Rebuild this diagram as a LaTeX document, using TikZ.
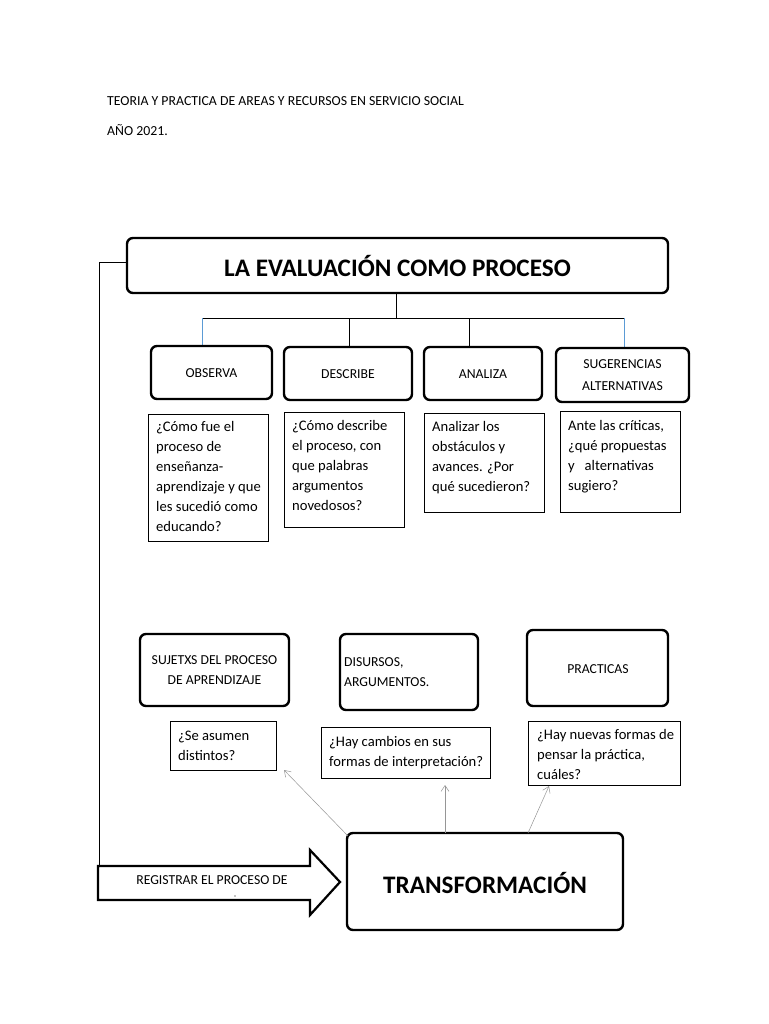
\documentclass[tikz,border=0pt]{standalone}
\usepackage{fontspec}
\setmainfont{Carlito}
\usetikzlibrary{arrows.meta,shapes.arrows}
\definecolor{linkblue}{RGB}{91,155,213}
\definecolor{arrgray}{RGB}{150,150,150}
\tikzset{
  rbox/.style={draw=black, line width=2.4pt, rounded corners=6pt},
  qbox/.style={draw=black, line width=0.9pt},
  body/.style={font=\fontsize{14.6}{20}\selectfont, align=left, anchor=north west, inner sep=0pt},
  small/.style={font=\fontsize{13.7}{22}\selectfont, align=center, inner sep=0pt},
  tree/.style={draw=black, line width=0.9pt},
  thin/.style={draw=arrgray, line width=0.5pt, -{Straight Barb[length=6pt,width=8pt]}}
}
\begin{document}
\begin{tikzpicture}[x=1pt,y=-1pt]
\useasboundingbox (0,0) rectangle (768,1024);
\fill[white] (0,0) rectangle (768,1024);

% header
\node[anchor=west, inner sep=0pt, font=\fontsize{13.8}{16}\selectfont] (h1) at (107,101) {TEORIA Y PRACTICA DE AREAS Y RECURSOS EN SERVICIO SOCIAL};
\node[anchor=west, inner sep=0pt, font=\fontsize{13.8}{16}\selectfont] (h2) at (107,130) {AÑO 2021.};

% main box
\draw[rbox] (127,238) rectangle (668,293);
\node[font=\bfseries\fontsize{25.2}{28}\selectfont, inner sep=0pt] (main) at (397.5,266) {LA EVALUACIÓN COMO PROCESO};
\coordinate (mainb) at (396,293);
\coordinate (mainl) at (127,262);

% tree
\coordinate (j) at (396,318);
\draw[tree] (mainb) -- (j);
\draw[tree] (202,318) -- (624,318);
\draw[draw=linkblue, line width=0.9pt] (202,318) -- (202,346);
\draw[tree] (349,318) -- (349,347);
\draw[tree] (469,318) -- (469,347);
\draw[draw=linkblue, line width=0.9pt] (624,318) -- (624,348);

% category boxes
\draw[rbox] (151,346) rectangle (272,399);
\node[small] (obs) at (211.5,373) {OBSERVA};
\draw[rbox] (284,347) rectangle (412,400);
\node[small] (des) at (348,374) {DESCRIBE};
\draw[rbox] (424,347) rectangle (542,400);
\node[small] (ana) at (483,374) {ANALIZA};
\draw[rbox] (556,348) rectangle (689,402);
\node[small] (sug) at (622.5,375) {SUGERENCIAS\\ALTERNATIVAS};

% question boxes
\draw[qbox] (148,414) rectangle (268,541);
\node[body] (q1) at (156,421) {¿Cómo fue el\\proceso de\\enseñanza-\\aprendizaje y que\\les sucedió como\\educando?};
\draw[qbox] (284,412) rectangle (404,527);
\node[body] (q2) at (292,420) {¿Cómo describe\\el proceso, con\\que palabras\\argumentos\\novedosos?};
\draw[qbox] (424,413) rectangle (544,512);
\node[body] (q3) at (432,421) {Analizar los\\obstáculos y\\avances. ¿Por\\qué sucedieron?};
\draw[qbox] (560,411) rectangle (680,512);
\node[body] (q4) at (568,420) {Ante las críticas,\\¿qué propuestas\\y \ \ alternativas\\sugiero?};

% lower category boxes
\draw[rbox] (140,634) rectangle (289,706);
\node[small, font=\fontsize{13.7}{20}\selectfont] (suj) at (214.5,670) {SUJETXS DEL PROCESO\\DE APRENDIZAJE};
\draw[rbox] (340,634) rectangle (478,710);
\node[small, align=left, anchor=west, font=\fontsize{13.7}{20}\selectfont] (dis) at (344,672) {DISURSOS,\\ARGUMENTOS.};
\draw[rbox] (527,630) rectangle (668,706);
\node[small] (pra) at (598,669) {PRACTICAS};

% lower question boxes
\draw[qbox] (170,721) rectangle (276,770);
\node[body] (r1) at (178,731) {¿Se asumen\\distintos?};
\coordinate (r1t) at (284,770);
\draw[qbox] (321,727) rectangle (490,778);
\node[body] (r2) at (329,736) {¿Hay cambios en sus\\formas de interpretación?};
\coordinate (r2t) at (445,785);
\draw[qbox] (528,721) rectangle (680,785);
\node[body] (r3) at (537,729) {¿Hay nuevas formas de\\pensar la práctica,\\cuáles?};
\coordinate (r3t) at (549,786);

% transformation
\draw[rbox] (347,833) rectangle (623,930);
\node[font=\bfseries\fontsize{25.2}{28}\selectfont, inner sep=0pt] (tr) at (485,883) {TRANSFORMACIÓN};
\coordinate (t1) at (348,836);
\coordinate (t2) at (445,833);
\coordinate (t3) at (528,833);
\draw[thin] (t1) -- (r1t);
\draw[thin] (t2) -- (r2t);
\draw[thin] (t3) -- (r3t);

% block arrow
\draw[line width=2.2pt, line join=miter] (98,866) -- (310,866) -- (310,850) -- (340,882) -- (310,915) -- (310,900) -- (98,900) -- cycle;
\node[inner sep=0pt, font=\fontsize{13.7}{16}\selectfont] (reg) at (212,880) {REGISTRAR EL PROCESO DE};
\fill (235,896) circle (0.6pt);

% feedback line
\coordinate (fb) at (99,866);
\draw[tree] (mainl) -- (99,262) -- (fb);
\end{tikzpicture}
\end{document}
